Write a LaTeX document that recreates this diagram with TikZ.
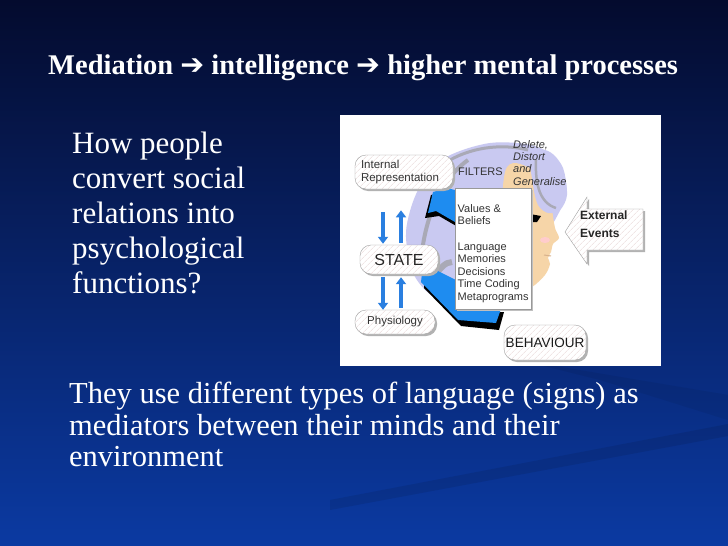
\documentclass[tikz,border=0pt]{standalone}
\usepackage{fontspec}
\setmainfont{Liberation Serif}
\newfontfamily\diagfont{Liberation Sans}
\newfontfamily\symbfont{DejaVu Sans}
\usepackage{tikz}
\usetikzlibrary{arrows.meta}
\usetikzlibrary{shapes}
\usetikzlibrary{positioning}
\usetikzlibrary{patterns.meta}
\usetikzlibrary{shadows}
\definecolor{bgtop}{HTML}{040B2E}
\definecolor{bgmid}{HTML}{0A2A82}
\definecolor{bgbot}{HTML}{0B3AA2}
\definecolor{hair}{HTML}{C9C9F1}
\definecolor{hairgray}{HTML}{A9A9B6}
\definecolor{skin}{HTML}{F6D5A8}
\definecolor{flowblue}{HTML}{1E8CF0}
\definecolor{statblue}{HTML}{2A7FE0}
\definecolor{hatch}{HTML}{E8D8D8}
\definecolor{diagtext}{HTML}{333333}
\tikzset{%
  hatchbox/.style={
    rectangle,
    rounded corners=11pt,
    draw=gray!75,
    drop shadow={shadow xshift=2pt,shadow yshift=-2pt,fill=gray!60,opacity=1},
    preaction={fill=white},
    pattern={Lines[angle=45,distance=4pt,line width=0.6pt]},
    pattern color=hatch,
    font=\diagfont\fontsize{11.5}{12.5}\selectfont,
    text=diagtext,
    align=left
  },
  diaglabel/.style={
    font=\diagfont\fontsize{11}{12.3}\selectfont,
    text=diagtext,
    align=left,
    inner sep=0pt
  },
  slidetext/.style={
    text=white,
    align=left,
    inner sep=0pt
  },
  statearrow/.style={
    draw=statblue,
    line width=4pt,
    -{Triangle[length=7pt,width=10pt]}
  },
}

\begin{document}
\begin{tikzpicture}[x=1pt,y=-1pt]
  \useasboundingbox (0,0) rectangle (728,546);
  \shade[top color=bgtop,middle color=bgmid,bottom color=bgbot] (0,0) rectangle (728,546);
  % faint bands in the background
  \fill[black,opacity=0.09] (330,500) -- (728,424) -- (728,436) -- (330,510) -- cycle;
  \fill[black,opacity=0.06] (520,360) -- (728,395) -- (728,420) -- (600,380) -- cycle;

  % title and slide text
  \node (title) [slidetext,anchor=base west,font=\fontsize{28.5}{32}\selectfont\bfseries]
    at (48,74) {Mediation {\symbfont ➔} intelligence {\symbfont ➔} higher mental processes};
  \node (question) [slidetext,anchor=north west,font=\fontsize{31}{35}\selectfont]
    at (72,132) {How people\\convert social\\relations into\\psychological\\functions?};
  \node (answer) [slidetext,anchor=north west,font=\fontsize{30.5}{31.5}\selectfont]
    at (69,382) {They use different types of language (signs) as\\mediators between their minds and their\\environment};

  % picture panel
  \fill[white] (340,115) rectangle (661,366);

  % head
  \fill[hair] plot[smooth cycle] coordinates {(406,232) (418,190) (445,158) (490,143)
    (535,146) (560,165) (566,195) (548,232) (520,272) (485,296) (440,300) (414,275)};
  \draw[hairgray,line width=4pt] (421,262) .. controls (424,220) and (440,180) .. (468,160);
  \draw[hairgray,line width=3pt] (450,160) .. controls (475,146) and (505,144) .. (528,150);
  \draw[hairgray,line width=6pt] (428,285) .. controls (440,268) and (445,262) .. (452,262);
  \fill[skin] plot[smooth cycle] coordinates {(505,172) (530,168) (547,186) (552,210)
    (555,228) (559,238) (553,244) (551,252) (548,258) (550,264) (545,275) (532,287)
    (515,293) (500,285)};
  \fill[hair] plot[smooth cycle] coordinates {(530,150) (550,152) (563,168) (567,195)
    (560,210) (548,213) (538,205) (533,185)};
  \draw[hairgray,line width=2.5pt] (536,160) .. controls (535,185) and (540,203) .. (556,208);
  \fill[black] (530,214) -- (541,216) -- (537,222) -- (530,222) -- cycle;
  \fill[pink!80] (545,240) ellipse (5pt and 3pt);
  \draw[brown!60,line width=1pt] (544,255) -- (551,256);

  % blue flow arrows
  \fill[black] (431,195) -- (450,191) -- (458,193) -- (458,227) -- (439,216) -- (425,218) -- cycle;
  \fill[flowblue] (433,192) -- (447,188) -- (455,190) -- (455,222) -- (436,211) -- (428,213) -- cycle;
  \fill[black] (425,278) -- (441,276) -- (459,284) -- (459,312) -- (504,312) -- (499,330)
    -- (461,326) -- (424,288) -- cycle;
  \fill[flowblue] (422,273) -- (438,271) -- (456,280) -- (456,309) -- (501,309) -- (496,323)
    -- (458,320) -- (421,282) -- cycle;

  % filter box
  \node (filters) [draw=gray!80,fill=white,minimum width=76pt,minimum height=121pt,
    anchor=north west,drop shadow={shadow xshift=1.5pt,shadow yshift=-1.5pt,fill=gray!50,opacity=1}]
    at (455,188) {};
  \node (values) [diaglabel,anchor=north west,font=\diagfont\fontsize{11}{12.5}\selectfont]
    at ([xshift=2.5pt,yshift=-16pt]filters.north west)
    {Values \&\\Beliefs\\[13pt]Language\\Memories\\Decisions\\Time Coding\\Metaprograms};
  \node (filt) [diaglabel,anchor=base west] at (458,175) {FILTERS};
  \node (dlt) [diaglabel,anchor=north west,font=\diagfont\itshape\fontsize{11}{12.3}\selectfont]
    at (513,140) {Delete,\\Distort\\and\\Generalise};

  % boxes
  \node (ir) [hatchbox,minimum width=98pt,minimum height=34pt,text width=86pt,inner xsep=6pt]
    at (404,172) {Internal\\Representation};
  \node (state) [hatchbox,minimum width=78pt,minimum height=29pt,
    font=\diagfont\fontsize{16}{18}\selectfont,text=black!85] at (399,259.5) {STATE};
  \node (phys) [hatchbox,minimum width=80pt,minimum height=24pt] at (395,322) {Physiology};
  \node (behav) [hatchbox,minimum width=82pt,minimum height=35pt,inner xsep=0pt,
    font=\diagfont\fontsize{13.5}{15}\selectfont,text=black!90] at (545,342.5) {BEHAVIOUR};

  % external events
  \draw[drop shadow={shadow xshift=2pt,shadow yshift=-2pt,fill=gray!60,opacity=1},
    preaction={fill=white},draw=gray!75,pattern={Lines[angle=45,distance=4pt,line width=0.6pt]},
    pattern color=hatch]
    (565,232) -- (587,197) -- (587,209) -- (643,209) -- (643,250) -- (587,250) -- (587,264) -- cycle;
  \node (ext) [diaglabel,anchor=north west,font=\diagfont\bfseries\fontsize{12}{18}\selectfont,
    text=black!85] at (580,211) {External\\Events};

  % state arrows
  \coordinate (dnx) at (383,0);
  \coordinate (upx) at (401,0);
  \draw[statearrow,shorten <=23pt,shorten >=1pt] (ir.south -| dnx) -- (state.north -| dnx);
  \draw[statearrow,shorten <=2pt,shorten >=21pt] (state.north -| upx) -- (ir.south -| upx);
  \draw[statearrow,shorten <=3pt,shorten >=0pt] (state.south -| dnx) -- (phys.north -| dnx);
  \draw[statearrow,shorten <=2pt,shorten >=3pt] (phys.north -| upx) -- (state.south -| upx);
\end{tikzpicture}
\end{document}
